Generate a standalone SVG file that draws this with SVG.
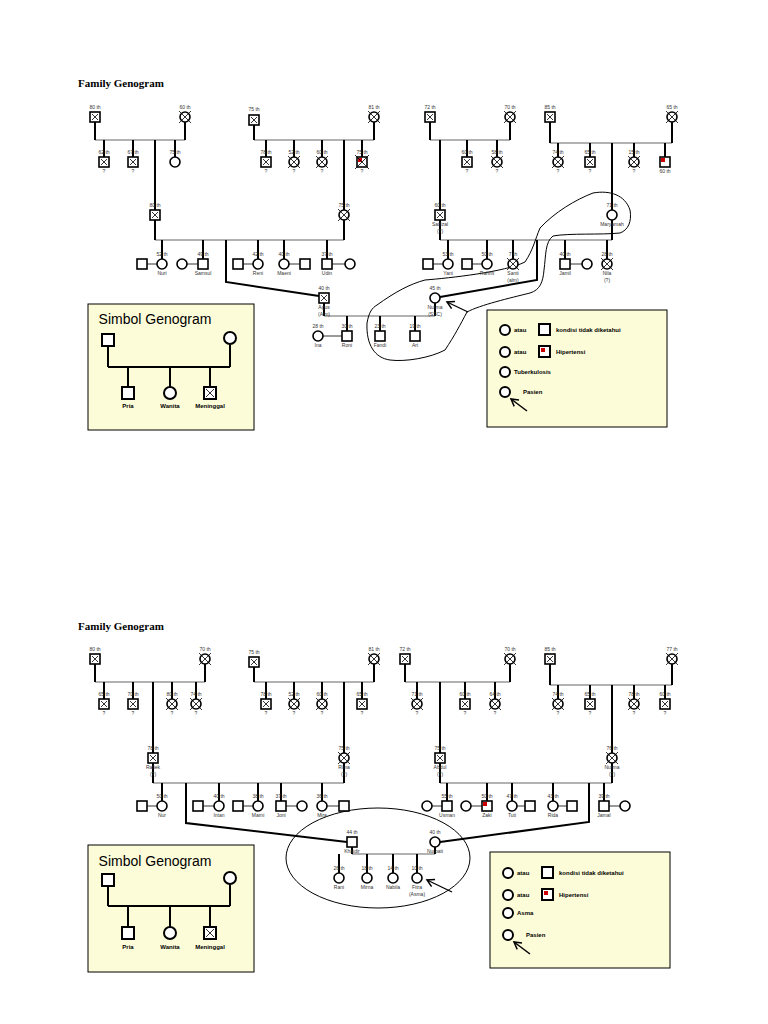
<svg xmlns="http://www.w3.org/2000/svg" xmlns:xlink="http://www.w3.org/1999/xlink" width="768" height="1024" viewBox="0 0 768 1024">
<style>
.s{fill:#fff;stroke:#000;stroke-width:1.6}
.x{stroke:#000;stroke-width:0.8;fill:none}
.a{font:5px "Liberation Sans",Arial,sans-serif;fill:#333;text-anchor:middle}
.t{font:bold 11px "Liberation Serif",serif;fill:#000}
.b{stroke:#999;stroke-width:1.5;fill:none}
.d{stroke:#000;stroke-width:2;fill:none}
.box{fill:#fdfcd9;stroke:#000;stroke-width:1}
.lg{font:bold 6px "Liberation Sans",Arial,sans-serif;fill:#000}
.st{font:14px "Liberation Sans",Arial,sans-serif;fill:#000;text-anchor:middle}
.ls{fill:#fff;stroke:#000;stroke-width:2}
</style>
<defs>
<g id="sq"><rect class="s" x="-5" y="-5" width="10" height="10"/></g>
<g id="sqd"><rect class="s" x="-5" y="-5" width="10" height="10"/><path class="x" d="M-3,-3L3,3M3,-3L-3,3"/></g>
<g id="sqh"><rect class="s" x="-5" y="-5" width="10" height="10"/><rect x="-4" y="-4" width="4" height="4" fill="#c00"/></g>
<g id="sqhd"><rect class="s" x="-5" y="-5" width="10" height="10"/><rect x="-4" y="-4" width="4" height="4" fill="#c00"/><path class="x" d="M-7,-7L7,7M7,-7L-7,7"/></g>
<g id="ci"><circle class="s" r="5"/></g>
<g id="cid"><circle class="s" r="5"/><path class="x" d="M-6,-6L6,6M6,-6L-6,6"/></g>
<marker id="ar" markerUnits="userSpaceOnUse" markerWidth="10" markerHeight="10" refX="8" refY="5" orient="auto"><path d="M1,1L8,5L1,9" fill="none" stroke="#000" stroke-width="1.5"/></marker>
</defs>

<text class="t" x="78" y="87">Family Genogram</text>
<text class="t" x="78" y="630">Family Genogram</text>

<g id="connectors">
<path class="b" d="M95,140H185M254,140H374M430,140H510M550,143H672M155,240H344M440,240H612M324,316H435M95,682H205M254,682H374M405,682H510M550,685H672M153,783H344M440,783H612M352,854H435"/>
<path class="d" d="M95,122V140M185,122V140M104,140V157M133,140V157M175,140V157M155,140V210M254,122V140M374,122V140M266,140V157M294,140V157M322,140V157M362,140V157M344,140V210M430,122V140M510,122V140M467,140V157M497,140V157M440,140V210M550,122V143M672,122V143M558,143V157M590,143V157M634,143V157M665,143V157M612,143V210"/>
<path class="d" d="M155,220V240M344,220V240M162,240V259M203,240V259M258,240V259M284,240V259M327,240V259M440,220V240M612,220V240M448,240V259M487,240V259M513,240V259M565,240V259M607,240V259M324,303V316M435,303V316M347,316V331M380,316V331M415,316V331"/>
<path class="d" d="M226,240V282L319,296M537,240V280L440,297" stroke-width="1.5"/>
<path class="x" stroke-width="1" d="M147,264H157M187,264H198M243,264H253M289,264H300M332,264H345M433,264H443M472,264H482M570,264H582M323,336H342"/>
<path class="d" d="M95,664V682M205,664V682M104,682V699M133,682V699M172,682V699M196,682V699M153,682V753M254,664V682M374,664V682M266,682V699M294,682V699M322,682V699M362,682V699M344,682V753M405,664V682M510,664V682M417,682V699M465,682V699M495,682V699M440,682V753M550,664V685M672,664V685M558,685V699M590,685V699M634,685V699M665,685V699M612,685V753"/>
<path class="d" d="M153,763V783M344,763V783M162,783V801M219,783V801M258,783V801M281,783V801M322,783V801M440,763V783M612,763V783M447,783V801M487,783V801M512,783V801M553,783V801M604,783V801M352,847V854M435,847V854M339,854V873M367,854V873M393,854V873M417,854V873"/>
<path class="d" d="M186,783V823L347,842M589,783V822L440,842" stroke-width="1.5"/>
<path class="x" stroke-width="1" d="M147,806H157M203,806H214M243,806H253M286,806H297M327,806H339M432,806H442M471,806H482M517,806H525M558,806H567M609,806H620"/>
<path fill="none" stroke="#000" stroke-width="1" d="M390,360C375,358 366,345 367,323C369,312 372,308 377,305C395,292 410,284 425,280C450,278 505,272 525,262C533,250 535,240 540,228C555,212 575,200 593,193C610,190 625,195 630,210C632,222 628,230 620,233C600,235 570,233 553,236C545,242 546,255 544,270C543,282 540,290 530,293C510,298 480,305 467,312C460,325 455,335 445,350C430,358 405,362 390,360Z"/>
<ellipse cx="378" cy="858" rx="92" ry="50" fill="none" stroke="#000" stroke-width="1"/>
<path d="M468,312L447,302" stroke="#000" stroke-width="1.3" marker-end="url(#ar)"/>
<path d="M452,892L427,880" stroke="#000" stroke-width="1.3" marker-end="url(#ar)"/>
</g>

<!-- TOP -->
<g id="t1"><use href="#sqd" x="95" y="117"/><text class="a" x="95" y="109">80 th</text></g>
<g id="t2"><use href="#cid" x="185" y="117"/><text class="a" x="185" y="109">60 th</text></g>
<g id="t3"><use href="#sqd" x="104" y="162"/><text class="a" x="104" y="154">62 th</text><text class="a" x="104" y="173">?</text></g>
<g id="t4"><use href="#sqd" x="133" y="162"/><text class="a" x="133" y="154">67 th</text><text class="a" x="133" y="173">?</text></g>
<g id="t5"><use href="#ci" x="175" y="162"/><text class="a" x="175" y="154">75 th</text></g>
<g id="t6"><use href="#sqd" x="254" y="120"/><text class="a" x="254" y="111">75 th</text></g>
<g id="t7"><use href="#cid" x="374" y="117"/><text class="a" x="374" y="109">81 th</text></g>
<g id="t8"><use href="#sqd" x="266" y="162"/><text class="a" x="266" y="154">78 th</text><text class="a" x="266" y="173">?</text></g>
<g id="t9"><use href="#cid" x="294" y="162"/><text class="a" x="294" y="154">52 th</text><text class="a" x="294" y="173">?</text></g>
<g id="t10"><use href="#cid" x="322" y="162"/><text class="a" x="322" y="154">60 th</text><text class="a" x="322" y="173">?</text></g>
<g id="t11"><use href="#sqhd" x="362" y="162"/><text class="a" x="362" y="154">75 th</text><text class="a" x="362" y="173">?</text></g>
<g id="t12"><use href="#sqd" x="155" y="215"/><text class="a" x="155" y="207">80 th</text></g>
<g id="t13"><use href="#cid" x="344" y="215"/><text class="a" x="344" y="207">75 th</text></g>
<g id="t14"><use href="#sq" x="142" y="264"/><use href="#ci" x="162" y="264"/><text class="a" x="162" y="256">52 th</text><text class="a" x="162" y="275">Nuri</text></g>
<g id="t15"><use href="#ci" x="182" y="264"/><use href="#sq" x="203" y="264"/><text class="a" x="203" y="256">49 th</text><text class="a" x="203" y="275">Samsul</text></g>
<g id="t16"><use href="#sq" x="238" y="264"/><use href="#ci" x="258" y="264"/><text class="a" x="258" y="256">42 th</text><text class="a" x="258" y="275">Reni</text></g>
<g id="t17"><use href="#ci" x="284" y="264"/><use href="#sq" x="305" y="264"/><text class="a" x="284" y="256">40 th</text><text class="a" x="284" y="275">Maeni</text></g>
<g id="t18"><use href="#sq" x="327" y="264"/><use href="#ci" x="350" y="264"/><text class="a" x="327" y="256">37 th</text><text class="a" x="327" y="275">Udin</text></g>
<g id="t19"><use href="#sqd" x="324" y="298"/><text class="a" x="324" y="290">40 th</text><text class="a" x="324" y="309">Agus</text><text class="a" x="324" y="316">(Alm)</text></g>
<g id="t20"><use href="#ci" x="318" y="336"/><text class="a" x="318" y="328">28 th</text><text class="a" x="318" y="347">Ina</text></g>
<g id="t21"><use href="#sq" x="347" y="336"/><text class="a" x="347" y="328">30 th</text><text class="a" x="347" y="347">Roni</text></g>
<g id="t22"><use href="#sq" x="380" y="336"/><text class="a" x="380" y="328">23 th</text><text class="a" x="380" y="347">Fandi</text></g>
<g id="t23"><use href="#sq" x="415" y="336"/><text class="a" x="415" y="328">19 th</text><text class="a" x="415" y="347">Ari</text></g>
<g id="t24"><use href="#ci" x="435" y="298"/><text class="a" x="435" y="290">45 th</text><text class="a" x="435" y="309">Nurma</text><text class="a" x="435" y="316">(SSC)</text></g>
<g id="t25"><use href="#sqd" x="430" y="117"/><text class="a" x="430" y="109">72 th</text></g>
<g id="t26"><use href="#cid" x="510" y="117"/><text class="a" x="510" y="109">70 th</text></g>
<g id="t27"><use href="#sqd" x="467" y="162"/><text class="a" x="467" y="154">60 th</text><text class="a" x="467" y="173">?</text></g>
<g id="t28"><use href="#cid" x="497" y="162"/><text class="a" x="497" y="154">58 th</text><text class="a" x="497" y="173">?</text></g>
<g id="t29"><use href="#sqd" x="550" y="117"/><text class="a" x="550" y="109">85 th</text></g>
<g id="t30"><use href="#cid" x="672" y="117"/><text class="a" x="672" y="109">65 th</text></g>
<g id="t31"><use href="#cid" x="558" y="162"/><text class="a" x="558" y="154">74 th</text><text class="a" x="558" y="173">?</text></g>
<g id="t32"><use href="#sqd" x="590" y="162"/><text class="a" x="590" y="154">65 th</text><text class="a" x="590" y="173">?</text></g>
<g id="t33"><use href="#cid" x="634" y="162"/><text class="a" x="634" y="154">15 th</text><text class="a" x="634" y="173">?</text></g>
<g id="t34"><use href="#sqh" x="665" y="162"/><text class="a" x="665" y="173">60 th</text></g>
<g id="t35"><use href="#sqd" x="440" y="215"/><text class="a" x="440" y="207">60 th</text><text class="a" x="440" y="226">Saifizal</text><text class="a" x="440" y="233">(?)</text></g>
<g id="t36"><use href="#ci" x="612" y="215"/><text class="a" x="612" y="207">71 th</text><text class="a" x="612" y="226">Maryamah</text></g>
<g id="t37"><use href="#sq" x="428" y="264"/><use href="#ci" x="448" y="264"/><text class="a" x="448" y="256">53 th</text><text class="a" x="448" y="275">Yani</text></g>
<g id="t38"><use href="#sq" x="467" y="264"/><use href="#ci" x="487" y="264"/><text class="a" x="487" y="256">50 th</text><text class="a" x="487" y="275">Rahmi</text></g>
<g id="t39"><use href="#cid" x="513" y="264"/><text class="a" x="513" y="256">7 th</text><text class="a" x="513" y="275">Santi</text><text class="a" x="513" y="282">(alm)</text></g>
<g id="t40"><use href="#sq" x="565" y="264"/><use href="#ci" x="587" y="264"/><text class="a" x="565" y="256">40 th</text><text class="a" x="565" y="275">Jamil</text></g>
<g id="t41"><use href="#cid" x="607" y="264"/><text class="a" x="607" y="256">28 th</text><text class="a" x="607" y="275">Nila</text><text class="a" x="607" y="282">(?)</text></g>

<g id="legendA1">
<rect class="box" x="88" y="304" width="166" height="126"/>
<text class="st" x="155" y="324">Simbol Genogram</text>
<path class="d" d="M108,346V367M230,344V367M108,367H230M128,367V387M170,367V387M210,367V387"/>
<rect class="ls" x="102" y="334" width="12" height="12"/><circle class="ls" cx="230" cy="338" r="6"/>
<rect class="ls" x="122" y="387" width="12" height="12"/><circle class="ls" cx="170" cy="393" r="6"/>
<rect class="ls" x="204" y="387" width="12" height="12"/><path class="x" d="M206,389L214,397M214,389L206,397"/>
<text class="lg" x="128" y="408" text-anchor="middle">Pria</text><text class="lg" x="170" y="408" text-anchor="middle">Wanita</text><text class="lg" x="210" y="408" text-anchor="middle">Meninggal</text>
</g>
<g id="legendB1">
<rect class="box" x="487" y="310" width="180" height="117"/>
<circle class="ls" cx="505" cy="330" r="5"/><text class="lg" x="514" y="332">atau</text><rect class="ls" x="539" y="324" width="11" height="11"/><text class="lg" x="556" y="332">kondisi tidak diketahui</text>
<circle class="ls" cx="505" cy="352" r="5"/><text class="lg" x="514" y="354">atau</text><rect class="ls" x="539" y="346" width="11" height="11"/><rect x="541" y="348" width="4" height="4" fill="#c00"/><text class="lg" x="556" y="354">Hipertensi</text>
<circle class="ls" cx="505" cy="372" r="5"/><text class="lg" x="514" y="374">Tuberkulosis</text>
<circle class="ls" cx="505" cy="392" r="5"/><text class="lg" x="523" y="394">Pasien</text>
<path d="M527,411L511,399" stroke="#000" stroke-width="1.5" marker-end="url(#ar)"/>
</g>

<!-- BOTTOM -->
<g id="b1"><use href="#sqd" x="95" y="659"/><text class="a" x="95" y="651">80 th</text></g>
<g id="b2"><use href="#cid" x="205" y="659"/><text class="a" x="205" y="651">70 th</text></g>
<g id="b3"><use href="#sqd" x="104" y="704"/><text class="a" x="104" y="696">65 th</text><text class="a" x="104" y="715">?</text></g>
<g id="b4"><use href="#sqd" x="133" y="704"/><text class="a" x="133" y="696">70 th</text><text class="a" x="133" y="715">?</text></g>
<g id="b5"><use href="#cid" x="172" y="704"/><text class="a" x="172" y="696">80 th</text><text class="a" x="172" y="715">?</text></g>
<g id="b6"><use href="#cid" x="196" y="704"/><text class="a" x="196" y="696">74 th</text><text class="a" x="196" y="715">?</text></g>
<g id="b7"><use href="#sqd" x="254" y="662"/><text class="a" x="254" y="654">75 th</text></g>
<g id="b8"><use href="#cid" x="374" y="659"/><text class="a" x="374" y="651">81 th</text></g>
<g id="b9"><use href="#sqd" x="266" y="704"/><text class="a" x="266" y="696">78 th</text><text class="a" x="266" y="715">?</text></g>
<g id="b10"><use href="#cid" x="294" y="704"/><text class="a" x="294" y="696">52 th</text><text class="a" x="294" y="715">?</text></g>
<g id="b11"><use href="#cid" x="322" y="704"/><text class="a" x="322" y="696">60 th</text><text class="a" x="322" y="715">?</text></g>
<g id="b12"><use href="#sqd" x="362" y="704"/><text class="a" x="362" y="696">65 th</text><text class="a" x="362" y="715">?</text></g>
<g id="b13"><use href="#sqd" x="153" y="758"/><text class="a" x="153" y="750">78 th</text><text class="a" x="153" y="769">Rafiek</text><text class="a" x="153" y="776">(?)</text></g>
<g id="b14"><use href="#cid" x="344" y="758"/><text class="a" x="344" y="750">75 th</text><text class="a" x="344" y="769">Rima</text><text class="a" x="344" y="776">(?)</text></g>
<g id="b15"><use href="#sq" x="142" y="806"/><use href="#ci" x="162" y="806"/><text class="a" x="162" y="798">50 th</text><text class="a" x="162" y="817">Nur</text></g>
<g id="b16"><use href="#sq" x="198" y="806"/><use href="#ci" x="219" y="806"/><text class="a" x="219" y="798">40 th</text><text class="a" x="219" y="817">Intan</text></g>
<g id="b17"><use href="#sq" x="238" y="806"/><use href="#ci" x="258" y="806"/><text class="a" x="258" y="798">38 th</text><text class="a" x="258" y="817">Marni</text></g>
<g id="b18"><use href="#sq" x="281" y="806"/><use href="#ci" x="302" y="806"/><text class="a" x="281" y="798">37 th</text><text class="a" x="281" y="817">Joni</text></g>
<g id="b19"><use href="#ci" x="322" y="806"/><use href="#sq" x="344" y="806"/><text class="a" x="322" y="798">36 th</text><text class="a" x="322" y="817">Mira</text></g>
<g id="b20"><use href="#sq" x="352" y="842"/><text class="a" x="352" y="834">44 th</text><text class="a" x="352" y="853">Khaidir</text></g>
<g id="b21"><use href="#ci" x="435" y="842"/><text class="a" x="435" y="834">40 th</text><text class="a" x="435" y="853">Nurpati</text></g>
<g id="b22"><use href="#ci" x="339" y="878"/><text class="a" x="339" y="870">26 th</text><text class="a" x="339" y="889">Rani</text></g>
<g id="b23"><use href="#ci" x="367" y="878"/><text class="a" x="367" y="870">18 th</text><text class="a" x="367" y="889">Mirna</text></g>
<g id="b24"><use href="#ci" x="393" y="878"/><text class="a" x="393" y="870">14 th</text><text class="a" x="393" y="889">Nabila</text></g>
<g id="b25"><use href="#ci" x="417" y="878"/><text class="a" x="417" y="870">10 th</text><text class="a" x="417" y="889">Fitra</text><text class="a" x="417" y="896">(Asma)</text></g>
<g id="b26"><use href="#sqd" x="405" y="659"/><text class="a" x="405" y="651">72 th</text></g>
<g id="b27"><use href="#cid" x="510" y="659"/><text class="a" x="510" y="651">70 th</text></g>
<g id="b28"><use href="#cid" x="417" y="704"/><text class="a" x="417" y="696">71 th</text><text class="a" x="417" y="715">?</text></g>
<g id="b29"><use href="#sqd" x="465" y="704"/><text class="a" x="465" y="696">60 th</text><text class="a" x="465" y="715">?</text></g>
<g id="b30"><use href="#cid" x="495" y="704"/><text class="a" x="495" y="696">64 th</text><text class="a" x="495" y="715">?</text></g>
<g id="b31"><use href="#sqd" x="550" y="659"/><text class="a" x="550" y="651">85 th</text></g>
<g id="b32"><use href="#cid" x="672" y="659"/><text class="a" x="672" y="651">77 th</text></g>
<g id="b33"><use href="#cid" x="558" y="704"/><text class="a" x="558" y="696">74 th</text><text class="a" x="558" y="715">?</text></g>
<g id="b34"><use href="#sqd" x="590" y="704"/><text class="a" x="590" y="696">65 th</text><text class="a" x="590" y="715">?</text></g>
<g id="b35"><use href="#cid" x="634" y="704"/><text class="a" x="634" y="696">78 th</text><text class="a" x="634" y="715">?</text></g>
<g id="b36"><use href="#sqd" x="665" y="704"/><text class="a" x="665" y="696">60 th</text><text class="a" x="665" y="715">?</text></g>
<g id="b37"><use href="#sqd" x="440" y="758"/><text class="a" x="440" y="750">75 th</text><text class="a" x="440" y="769">Abdul</text><text class="a" x="440" y="776">(?)</text></g>
<g id="b38"><use href="#cid" x="612" y="758"/><text class="a" x="612" y="750">76 th</text><text class="a" x="612" y="769">Nurma</text><text class="a" x="612" y="776">(?)</text></g>
<g id="b39"><use href="#ci" x="427" y="806"/><use href="#sq" x="447" y="806"/><text class="a" x="447" y="798">55 th</text><text class="a" x="447" y="817">Usman</text></g>
<g id="b40"><use href="#ci" x="466" y="806"/><use href="#sqh" x="487" y="806"/><text class="a" x="487" y="798">50 th</text><text class="a" x="487" y="817">Zaki</text></g>
<g id="b41"><use href="#ci" x="512" y="806"/><use href="#sq" x="530" y="806"/><text class="a" x="512" y="798">47 th</text><text class="a" x="512" y="817">Tuti</text></g>
<g id="b42"><use href="#ci" x="553" y="806"/><use href="#sq" x="572" y="806"/><text class="a" x="553" y="798">43 th</text><text class="a" x="553" y="817">Rida</text></g>
<g id="b43"><use href="#sq" x="604" y="806"/><use href="#ci" x="625" y="806"/><text class="a" x="604" y="798">39 th</text><text class="a" x="604" y="817">Jamal</text></g>

<g id="legendA2">
<rect class="box" x="88" y="845" width="166" height="127"/>
<text class="st" x="155" y="866">Simbol Genogram</text>
<path class="d" d="M108,886V906M230,884V906M108,906H230M128,906V927M170,906V927M210,906V927"/>
<rect class="ls" x="102" y="874" width="12" height="12"/><circle class="ls" cx="230" cy="878" r="6"/>
<rect class="ls" x="122" y="927" width="12" height="12"/><circle class="ls" cx="170" cy="933" r="6"/>
<rect class="ls" x="204" y="927" width="12" height="12"/><path class="x" d="M206,929L214,937M214,929L206,937"/>
<text class="lg" x="128" y="949" text-anchor="middle">Pria</text><text class="lg" x="170" y="949" text-anchor="middle">Wanita</text><text class="lg" x="210" y="949" text-anchor="middle">Meninggal</text>
</g>
<g id="legendB2">
<rect class="box" x="490" y="852" width="180" height="116"/>
<circle class="ls" cx="508" cy="873" r="5"/><text class="lg" x="517" y="875">atau</text><rect class="ls" x="542" y="867" width="11" height="11"/><text class="lg" x="559" y="875">kondisi tidak diketahui</text>
<circle class="ls" cx="508" cy="895" r="5"/><text class="lg" x="517" y="897">atau</text><rect class="ls" x="542" y="889" width="11" height="11"/><rect x="544" y="891" width="4" height="4" fill="#c00"/><text class="lg" x="559" y="897">Hipertensi</text>
<circle class="ls" cx="508" cy="913" r="5"/><text class="lg" x="517" y="915">Asma</text>
<circle class="ls" cx="508" cy="935" r="5"/><text class="lg" x="526" y="937">Pasien</text>
<path d="M530,954L514,942" stroke="#000" stroke-width="1.5" marker-end="url(#ar)"/>
</g>
</svg>
